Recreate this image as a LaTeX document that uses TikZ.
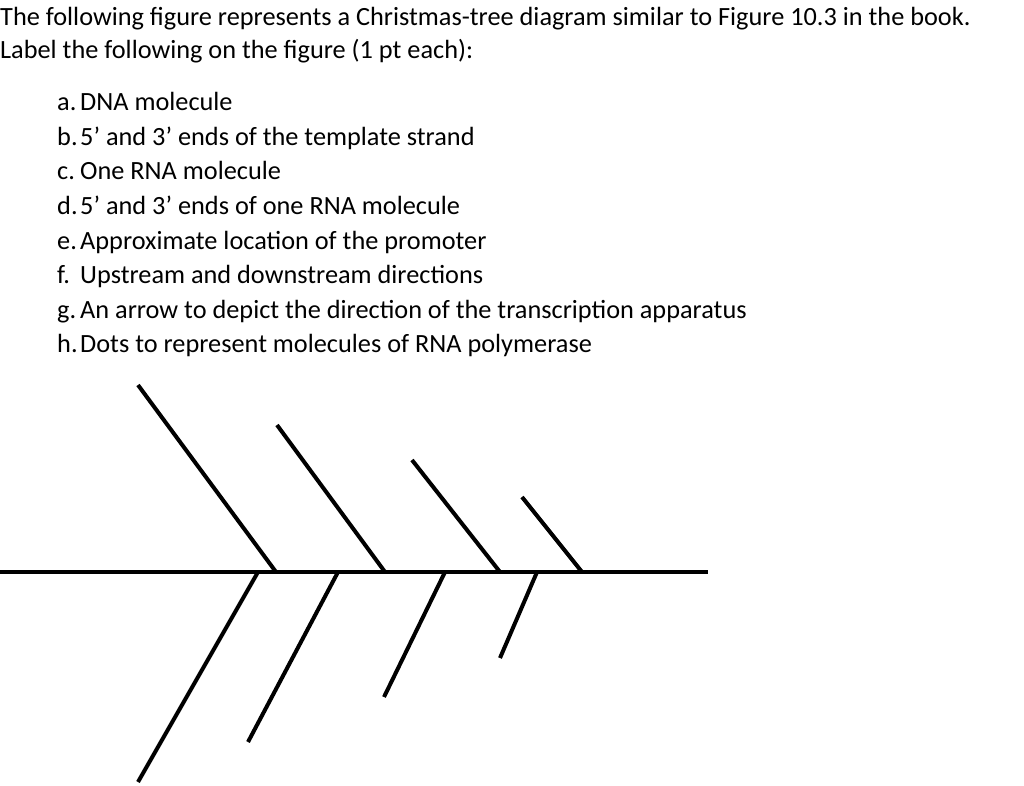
\documentclass[tikz,border=0pt]{standalone}
\usepackage{fontspec}
\setmainfont{Carlito}
\begin{document}
\begin{tikzpicture}[x=1pt,y=-1pt,
  ln/.style={line width=4pt},
  txt/.style={anchor=base west,inner sep=0pt,font=\fontsize{26.3}{30}\selectfont}]
\useasboundingbox (0,0) rectangle (1024,786);
\node[txt] (t1) at (0,26) {The following figure represents a Christmas-tree diagram similar to Figure 10.3 in the book.};
\node[txt] (t2) at (0,59) {Label the following on the figure (1 pt each):};
\foreach \l/\s [count=\i] in {a./DNA molecule, b./5’ and 3’ ends of the template strand, c./One RNA molecule, d./5’ and 3’ ends of one RNA molecule, e./Approximate location of the promoter, f./Upstream and downstream directions, g./An arrow to depict the direction of the transcription apparatus, h./Dots to represent molecules of RNA polymerase}{
  \node[txt] (l\i) at (57,{111+34.5*(\i-1)}) {\l};
  \node[txt] (s\i) at (80,{111+34.5*(\i-1)}) {\s};
}
\coordinate (d1) at (0,572); \coordinate (d2) at (708,572);
\draw[ln] (d1) -- (d2);
\foreach \a/\b/\c/\d in {138/385/276/572, 277/425/385/572, 412/460/500/572, 522/497/582/572,
  258/572/138/782, 338/572/248/742, 445/572/384/697, 537/572/500/658}
  \draw[ln] (\a,\b) -- (\c,\d);
\end{tikzpicture}
\end{document}
